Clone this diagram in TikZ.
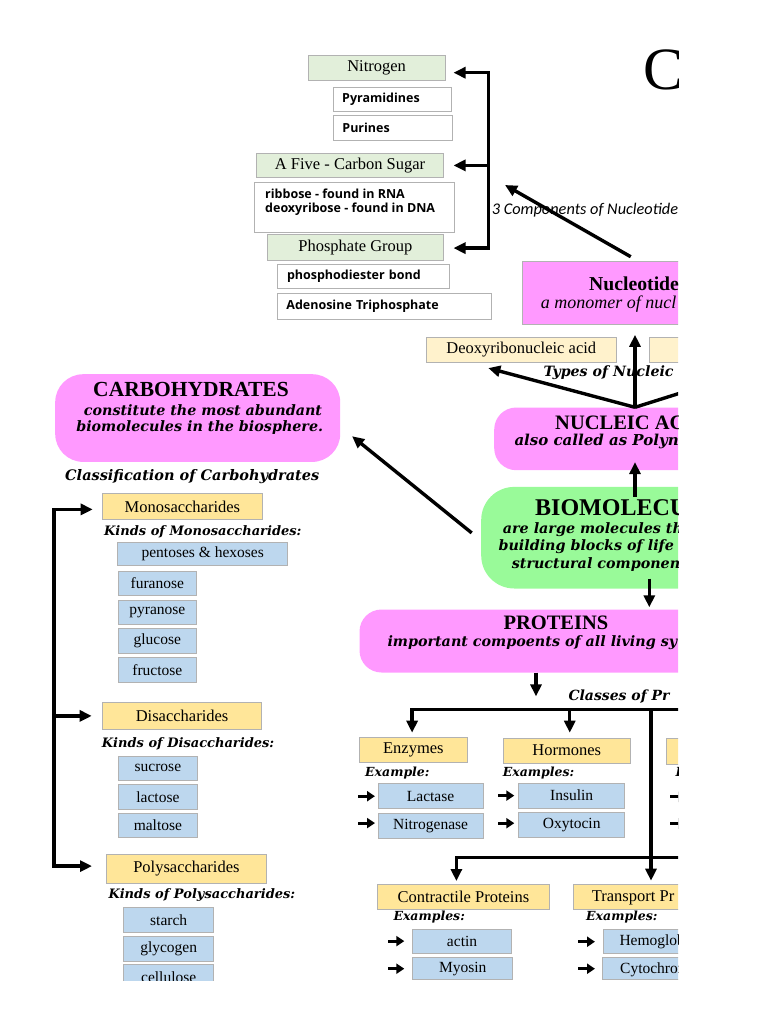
\documentclass[tikz,border=0pt]{standalone}
\usepackage{fontspec}
\setmainfont{Liberation Serif}
\newfontfamily\bookfont{DejaVu Serif}
\newfontfamily\labelsans{Open Sans}
\newfontfamily\notesans{Carlito}
\usetikzlibrary{arrows.meta,positioning}
\definecolor{blobpink}{RGB}{255,153,255}
\definecolor{blobgreen}{RGB}{153,250,153}
\definecolor{mintfill}{RGB}{226,239,218}
\definecolor{creamfill}{RGB}{255,242,204}
\definecolor{goldfill}{RGB}{255,230,153}
\definecolor{skyfill}{RGB}{189,215,238}
\definecolor{cellline}{RGB}{178,178,178}
\tikzset{>={Triangle[length=12pt,width=11pt]},
  cellbox/.style={draw=cellline,line width=0.8pt,inner sep=0pt,anchor=north west,font=\fontsize{16.5}{18}\selectfont},
  mintbox/.style={cellbox,fill=mintfill},
  creambox/.style={cellbox,fill=creamfill},
  goldbox/.style={cellbox,fill=goldfill},
  skybox/.style={cellbox,fill=skyfill,font=\fontsize{15.5}{17}\selectfont},
  whitebox/.style={cellbox,fill=white,align=left,inner xsep=9.3pt,font=\labelsans\bfseries\fontsize{12.5}{14}\selectfont},
  blob/.style={fill=blobpink,inner sep=0pt,anchor=north west},
  rectblob/.style={blob,draw=cellline,line width=0.8pt},
  heading/.style={inner sep=0pt,anchor=base west,font=\bfseries\fontsize{20.5}{22}\selectfont},
  gloss/.style={inner sep=0pt,anchor=base west,font=\bookfont\bfseries\itshape\fontsize{14.3}{16}\selectfont},
  kind/.style={inner sep=0pt,anchor=base west,font=\bookfont\bfseries\itshape\fontsize{13}{15}\selectfont},
  example/.style={kind,font=\bookfont\bfseries\itshape\fontsize{12.5}{14}\selectfont},
  cutlabel/.style={inner sep=0pt,anchor=base west,font=\fontsize{16.5}{18}\selectfont},
  cutitem/.style={inner sep=0pt,anchor=base west,font=\fontsize{15.5}{17}\selectfont},
  link/.style={->,line width=3.4pt},
  exarrow/.style={-{Triangle[length=8pt,width=10pt]},line width=3pt},
}
\begin{document}
\begin{tikzpicture}[x=1pt,y=-1pt,node distance=28.8pt]
              \useasboundingbox (0,0) rectangle (768,1024);
              \clip (0,0) rectangle (678,980.5);

              \node[anchor=base west,inner sep=0pt,font=\fontsize{60}{60}\selectfont] (title) at (643,90) {C};

              \node[mintbox,minimum width=137.5pt,minimum height=25pt] (nit) at (307.5,55) {Nitrogen};
              \node[whitebox,text width=99.9pt,minimum height=24.3pt] (pyrim) at (332.5,86.7) {Pyramidines};
              \node[whitebox,text width=100.4pt,minimum height=25pt] (purine) at (332.7,115) {Purines};
              \node[mintbox,minimum width=187.3pt,minimum height=24.6pt] (sugar) at (256,152.7) {A Five - Carbon Sugar};
              \node[whitebox,minimum width=200pt,minimum height=50pt] (ribo) at (254.3,182.3) {};
              \node[anchor=north west,align=left,inner sep=0pt,font=\labelsans\bfseries\fontsize{12.5}{14}\selectfont] (ribonote) at (265,188.5) {ribbose - found in RNA\\deoxyribose - found in DNA};
              \node[mintbox,minimum width=176.6pt,minimum height=26pt] (phos) at (266.7,234) {Phosphate Group};
              \node[whitebox,text width=153.4pt,minimum height=24pt] (ester) at (277.3,264.3) {phosphodiester bond};
              \node[whitebox,text width=195.4pt,minimum height=26pt] (atp) at (276.7,293.3) {Adenosine Triphosphate};
              \coordinate (nspine) at (488.3,160);
              \coordinate (comptip) at (505,185);
              \node[anchor=base west,inner sep=0pt,font=\notesans\itshape\fontsize{16.3}{18}\selectfont] (comp) at (491.7,214.3) {3 Components of Nucleotide};

              \node[rectblob,minimum width=240pt,minimum height=63pt] (nuc) at (521.7,261) {};
              \node[heading,font=\bfseries\fontsize{19.7}{22}\selectfont] (nucname) at (589,290) {Nucleotide};
              \node[anchor=base west,inner sep=0pt,font=\itshape\fontsize{18}{20}\selectfont] (nucgloss) at (540.7,308.3) {a monomer of nucl};

              \node[creambox,minimum width=189.7pt,minimum height=25pt] (dna) at (426,336.7) {Deoxyribonucleic acid};
              \node[creambox,minimum width=110pt,minimum height=25pt] (rna) at (649.3,337) {};
              \node[kind,font=\bookfont\bfseries\itshape\fontsize{14.2}{16}\selectfont] (types) at (543.3,376.7) {Types of Nucleic};

              \node[blob,rounded corners=22pt,minimum width=266pt,minimum height=62.7pt] (nucl) at (494,407.3) {};
              \node[heading] (nuclname) at (555,429) {NUCLEIC AC};
              \node[gloss,font=\bookfont\bfseries\itshape\fontsize{15}{17}\selectfont] (nuclgloss) at (514.3,445) {also called as Polyn};
              \coordinate (fork) at ([xshift=141pt]nucl.north west);

              \node[blob,fill=blobgreen,rounded corners=33pt,minimum width=279pt,minimum height=101.6pt] (bio) at (481,486.7) {};
              \node[heading,font=\bfseries\fontsize{24}{26}\selectfont] (bioname) at (535,515.7) {BIOMOLECU};
              \node[gloss] (biogloss) at (502.7,533.3) {are large molecules th};
              \node[gloss] (biogloss2) at (498.3,550.7) {building blocks of life};
              \node[gloss] (biogloss3) at (511.7,568.3) {structural componen};

              \node[blob,rounded corners=28pt,minimum width=285pt,minimum height=87.7pt] (carb) at (55,374) {};
              \node[heading,anchor=base,font=\bfseries\fontsize{21.5}{23}\selectfont] (carbname) at (191,396.7) {CARBOHYDRATES};
              \node[gloss,anchor=base] (carbgloss) at (203,415) {constitute the most abundant};
              \node[gloss,anchor=base] (carbgloss2) at (199.7,431.7) {biomolecules in the biosphere.};
              \node[kind,font=\bookfont\bfseries\itshape\fontsize{14.5}{16}\selectfont] (carbkind) at (65,480) {Classification of Carbohydrates};

              \node[goldbox,minimum width=159.4pt,minimum height=26.6pt] (mono) at (102.3,492.7) {Monosaccharides};
              \node[kind] (monokind) at (104,535.7) {Kinds of Monosaccharides:};
              \node[skybox,minimum width=170pt,minimum height=23.3pt] (pent) at (117.3,541.7) {pentoses \& hexoses};
              \node[skybox,minimum width=78.5pt,minimum height=24.4pt] (fur) at (117.7,570.7) {furanose};
              \node[skybox,minimum width=78.5pt,minimum height=24.4pt,below of=fur] (pyra) {pyranose};
              \node[skybox,minimum width=78.5pt,minimum height=24.4pt,below of=pyra] (gluc) {glucose};
              \node[skybox,minimum width=78.5pt,minimum height=24.4pt,below of=gluc] (fruc) {fructose};

              \node[goldbox,minimum width=158.7pt,minimum height=27.6pt] (di) at (102.3,701.7) {Disaccharides};
              \node[kind] (dikind) at (101.7,747.3) {Kinds of Disaccharides:};
              \node[skybox,minimum width=78.4pt,minimum height=24.3pt] (sucr) at (118.3,755.7) {sucrose};
              \node[skybox,minimum width=78.4pt,minimum height=24.3pt,below of=sucr,node distance=28.6pt] (lact) {lactose};
              \node[skybox,minimum width=78.4pt,minimum height=24.3pt,below of=lact,node distance=28.3pt] (malt) {maltose};

              \node[goldbox,minimum width=160pt,minimum height=28.4pt] (poly) at (106,854.3) {Polysaccharides};
              \node[kind] (polykind) at (108.3,898.3) {Kinds of Polysaccharides:};
              \node[skybox,minimum width=90pt,minimum height=25pt] (starch) at (123.3,907.3) {starch};
              \node[skybox,minimum width=90pt,minimum height=25pt,below of=starch,node distance=28.5pt] (glyco) {glycogen};
              \node[skybox,minimum width=90pt,minimum height=25pt,below of=glyco,node distance=28.5pt] (cellu) {cellulose};

              \node[blob,rounded corners=22pt,minimum width=400pt,minimum height=63pt] (prot) at (359.3,609.3) {};
              \node[heading] (protname) at (503.3,629) {PROTEINS};
              \node[gloss] (protgloss) at (387.3,646.7) {important compoents of all living sy};
              \node[kind,font=\bookfont\bfseries\itshape\fontsize{14}{16}\selectfont] (classes) at (568.3,700.7) {Classes of Pr};

              \node[goldbox,minimum width=107.4pt,minimum height=25pt] (enz) at (359.3,737.3) {Enzymes};
              \node[example] (enzkind) at (365,776) {Example:};
              \node[skybox,minimum width=105pt,minimum height=25pt] (lac) at (377.7,783.3) {Lactase};
              \node[skybox,minimum width=105pt,minimum height=25pt,below of=lac,node distance=29.4pt] (nitro) {Nitrogenase};

              \node[goldbox,minimum width=127.3pt,minimum height=25pt] (horm) at (502.7,737.7) {Hormones};
              \node[example] (hormkind) at (502.7,776) {Examples:};
              \node[skybox,minimum width=106pt,minimum height=25pt] (ins) at (518.3,782.7) {Insulin};
              \node[skybox,minimum width=106pt,minimum height=25pt,below of=ins,node distance=29.6pt] (oxy) {Oxytocin};

              \node[goldbox,minimum width=110pt,minimum height=26pt] (struct) at (665.7,738.3) {};
              \node[example] (structkind) at (675.5,776) {E};

              \node[goldbox,minimum width=172.6pt,minimum height=25pt] (contr) at (376.7,884.3) {Contractile Proteins};
              \node[example] (contrkind) at (393.3,920) {Examples:};
              \node[skybox,minimum width=98.7pt,minimum height=24pt] (actin) at (412.3,928.7) {actin};
              \node[skybox,minimum width=100pt,minimum height=22pt] (myo) at (412.3,957.3) {Myosin};

              \node[goldbox,minimum width=200pt,minimum height=25pt] (trans) at (573.3,884.3) {};
              \node[cutlabel] (transname) at (591.7,901.7) {Transport Pr};
              \node[example] (transkind) at (586,920) {Examples:};
              \node[skybox,minimum width=120pt,minimum height=24pt] (hemo) at (602.7,929.3) {};
              \node[cutitem] (hemoname) at (619.3,945.7) {Hemoglob};
              \node[skybox,minimum width=120pt,minimum height=22pt] (cyto) at (601.7,957.3) {};
              \node[cutitem] (cytoname) at (620,973) {Cytochrom};

              \draw[link,<->] ([xshift=7.7pt,yshift=-4.8pt]nit.east) -| (nspine) |- ([xshift=9.4pt,yshift=-0.7pt]phos.east);
              \path[link]
              (nspine |- sugar.east) edge ([xshift=9.4pt]sugar.east)
              ([xshift=109pt,yshift=4.3pt]nuc.north west) edge (comptip)
              (fork) edge ([xshift=113.3pt,yshift=-10pt]nuc.south west)
              (fork) edge ([xshift=62.3pt,yshift=-5.6pt]dna.south west)
              (fork) edge ([xshift=70pt,yshift=-18pt]rna.south west)
              ([xshift=154pt,yshift=-10pt]bio.north west) edge ([xshift=141pt,yshift=8.3pt]nucl.south west)
              ([xshift=-9.3pt,yshift=4.8pt]bio.west) edge ([xshift=11.7pt,yshift=-18.2pt]carb.east)
              ([xshift=168.3pt,yshift=10pt]bio.south west) edge ([xshift=290pt,yshift=2pt]prot.north west)
              ([xshift=176.7pt]prot.south west) edge ([xshift=176.7pt,yshift=-23.7pt]prot.south west)
              ;

              \coordinate (cspine) at (54,700);
              \draw[link,<->] ([xshift=-9.6pt,yshift=-3pt]mono.west) -| (cspine) |- ([xshift=-14pt,yshift=2.8pt]poly.west);
              \path[link] (cspine |- di.west) edge ([xshift=-10.6pt]di.west);

              \coordinate (hub) at (651,709.3);
              \coordinate (lowhub) at (651,857.3);
              \draw[link] ([xshift=60pt]hub) -| ([xshift=-1.3pt,yshift=4.6pt]enz.north);
              \draw[link] ([xshift=60pt]lowhub) -| ([xshift=-7pt,yshift=3.3pt]contr.north);
              \path[link]
              ([xshift=3pt]horm.north |- hub) edge ([xshift=3pt,yshift=5pt]horm.north)
              (hub) edge ([yshift=3.6pt]hub |- trans.north)
              ;

              \path[exarrow]
              ([xshift=-19.4pt]lac.west) edge ([xshift=-2.7pt]lac.west)
              ([xshift=-19.4pt,yshift=2.5pt]nitro.west) edge ([xshift=-2.7pt,yshift=2.5pt]nitro.west)
              ([xshift=-20pt]ins.west) edge ([xshift=-4pt]ins.west)
              ([xshift=-20pt,yshift=2pt]oxy.west) edge ([xshift=-4pt,yshift=2pt]oxy.west)
              ([xshift=4.3pt,yshift=-31.7pt]struct.south west) edge ([xshift=20.3pt,yshift=-31.7pt]struct.south west)
              ([xshift=4.3pt,yshift=-58.4pt]struct.south west) edge ([xshift=20.3pt,yshift=-58.4pt]struct.south west)
              ([xshift=-24pt]actin.west) edge ([xshift=-8pt]actin.west)
              ([xshift=-24pt]myo.west) edge ([xshift=-8pt]myo.west)
              ([xshift=-24.4pt]hemo.west) edge ([xshift=-7.7pt]hemo.west)
              ([xshift=-23.4pt]cyto.west) edge ([xshift=-6.7pt]cyto.west)
              ;
\end{tikzpicture}
\end{document}
